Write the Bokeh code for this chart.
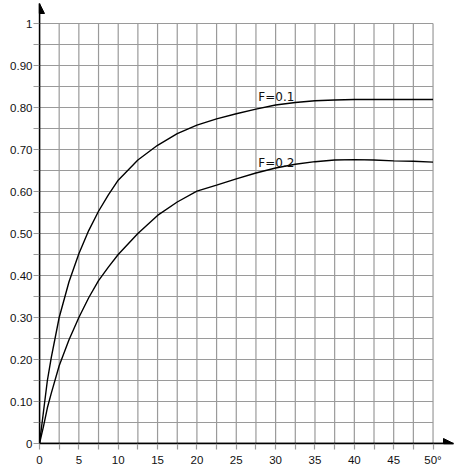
from bokeh.plotting import figure
from bokeh.models import Range1d, FixedTicker, Arrow, NormalHead, Label
from bokeh.embed import file_html
from bokeh.resources import INLINE

# ---- data ----
x_grid = [2.5, 5, 7.5, 10, 12.5, 15, 17.5, 20, 22.5, 25, 27.5, 30, 32.5, 35,
          37.5, 40, 42.5, 45, 47.5, 50]
y_grid = [0.05, 0.10, 0.15, 0.20, 0.25, 0.30, 0.35, 0.40, 0.45, 0.50, 0.55,
          0.60, 0.65, 0.70, 0.75, 0.80, 0.85, 0.90, 0.95, 1.0]
x_tick_values = [0, 5, 10, 15, 20, 25, 30, 35, 40, 45, 50]
x_tick_labels = ["0", "5", "10", "15", "20", "25", "30", "35", "40", "45", "50°"]
y_tick_values = [0, 0.1, 0.2, 0.3, 0.4, 0.5, 0.6, 0.7, 0.8, 0.9, 1.0]
y_tick_labels = ["0", "0.10", "0.20", "0.30", "0.40", "0.50", "0.60", "0.70",
                 "0.80", "0.90", "1"]

x_curve = [0, 0.5, 1, 1.5, 2.5, 3.75, 5, 6.25, 7.5, 8.75, 10, 12.5, 15, 17.5,
           20, 22.5, 25, 27.5, 30, 32.5, 35, 37.5, 40, 42.5, 45, 47.5, 50]
f01 = [0.0, 0.075, 0.15, 0.205, 0.30, 0.385, 0.452, 0.507, 0.553, 0.592,
       0.627, 0.675, 0.710, 0.738, 0.758, 0.773, 0.785, 0.796, 0.806, 0.812,
       0.816, 0.818, 0.819, 0.819, 0.819, 0.819, 0.819]
f02 = [0.0, 0.04, 0.085, 0.12, 0.185, 0.247, 0.30, 0.347, 0.388, 0.42, 0.45,
       0.50, 0.543, 0.575, 0.601, 0.615, 0.63, 0.644, 0.656, 0.665, 0.671,
       0.675, 0.676, 0.675, 0.673, 0.672, 0.67]
curve_names = ["F=0.1", "F=0.2"]
label_x = [27.8, 27.8]
label_y = [0.826, 0.668]

X_MAX = 52.6
Y_MAX = 440 / 420

TICK_FONT = "Liberation Sans"

p = figure(frame_width=414, frame_height=440,
           x_range=Range1d(0, X_MAX), y_range=Range1d(0, Y_MAX),
           output_backend="svg", toolbar_location=None,
           min_border_left=39, min_border_right=10, min_border_top=3,
           min_border_bottom=20)
p.outline_line_color = None
p.xgrid.visible = False
p.ygrid.visible = False
p.background_fill_color = "white"
p.border_fill_color = "white"

GRID_COLOR = "#9a9a9a"
# grid lines (stop at 50 and 1)
p.segment(x0=x_grid, y0=[0] * len(x_grid), x1=x_grid, y1=[1.0] * len(x_grid),
          line_color=GRID_COLOR, line_width=1.2)
p.segment(x0=[0] * len(y_grid), y0=y_grid, x1=[50] * len(y_grid), y1=y_grid,
          line_color=GRID_COLOR, line_width=1.2)

# axes
all_x_ticks = [0] + x_grid
all_y_ticks = [0] + y_grid
x_over = {}
for t in all_x_ticks:
    x_over[t] = ""
for t, lab in zip(x_tick_values, x_tick_labels):
    x_over[t] = lab
y_over = {}
for t in all_y_ticks:
    y_over[t] = ""
for t, lab in zip(y_tick_values, y_tick_labels):
    y_over[t] = lab

for ax, ticks, over in ((p.xaxis[0], all_x_ticks, x_over),
                        (p.yaxis[0], all_y_ticks, y_over)):
    ax.ticker = FixedTicker(ticks=ticks, minor_ticks=[])
    ax.major_label_overrides = over
    ax.axis_line_color = "black"
    ax.axis_line_width = 1.4
    ax.major_tick_line_color = GRID_COLOR
    ax.major_tick_line_width = 1.2
    ax.major_tick_in = 0
    ax.major_tick_out = 6
    ax.minor_tick_line_color = None
    ax.major_label_text_font = TICK_FONT
    ax.major_label_text_font_size = "11.5px"
    ax.major_label_text_color = "#111111"

p.yaxis[0].major_label_standoff = 1
p.xaxis[0].major_label_standoff = 4

# curves
p.line(x_curve, f01, line_color="black", line_width=1.4)
p.line(x_curve, f02, line_color="black", line_width=1.4)

for name, lx, ly in zip(curve_names, label_x, label_y):
    p.add_layout(Label(x=lx, y=ly, text=name, text_font="DejaVu Sans",
                       text_font_size="12px", text_color="#111111",
                       text_baseline="alphabetic", text_align="left"))

# arrow heads
p.add_layout(Arrow(end=NormalHead(size=10, fill_color="black", line_color="black"),
                   x_start=0, y_start=0, x_end=X_MAX, y_end=0,
                   line_color="black", line_width=1.4))
p.add_layout(Arrow(end=NormalHead(size=10, fill_color="black", line_color="black"),
                   x_start=0, y_start=0, x_end=0, y_end=Y_MAX,
                   line_color="black", line_width=1.4))

open("out.html", "w").write(file_html(p, INLINE))
